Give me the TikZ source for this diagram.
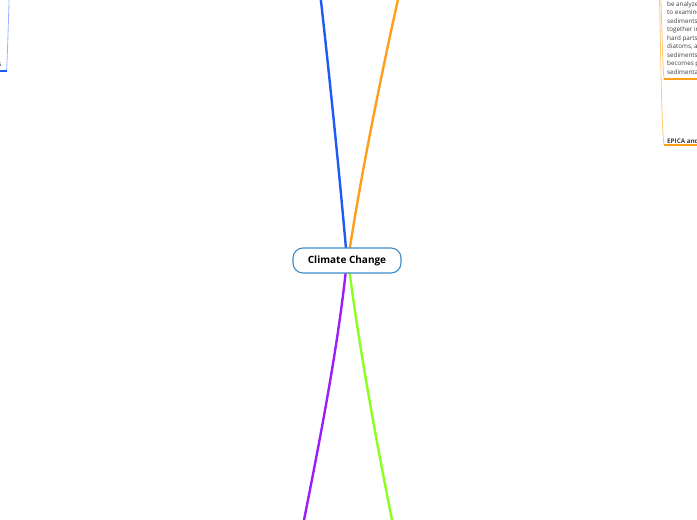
\documentclass[tikz,border=0pt]{standalone}
\usepackage{fontspec}
\setmainfont{Open Sans}
\definecolor{bblue}{RGB}{30,90,245}
\definecolor{borange}{RGB}{255,158,28}
\definecolor{bgreen}{RGB}{140,255,30}
\definecolor{bpurple}{RGB}{155,30,250}
\definecolor{ccblue}{RGB}{60,140,200}
\definecolor{lorange}{RGB}{255,200,110}
\definecolor{lblue}{RGB}{150,180,255}
\definecolor{txtgray}{RGB}{60,60,60}
\begin{document}
\begin{tikzpicture}[x=1pt,y=-1pt,
  branch/.style={line width=2.4pt, line cap=round},
  thinlink/.style={line width=0.8pt},
  uline/.style={line width=1.4pt},
  central/.style={draw=ccblue, line width=1.1pt, rounded corners=10pt, fill=white,
    minimum width=108pt, minimum height=25pt, inner sep=0pt,
    font=\bfseries\fontsize{10}{12}\selectfont},
  small/.style={font=\fontsize{6.3}{8.5}\selectfont, text=txtgray, inner sep=0pt, align=left}]
\useasboundingbox (0,0) rectangle (697,520);
\clip (0,0) rectangle (697,520);
% branch ends (off canvas)
\coordinate (bEnd) at (320,-8);
\coordinate (oEnd) at (399,-5);
\coordinate (gEnd) at (394,530);
\coordinate (pEnd) at (302,530);
\coordinate (c0) at (347,260);
% main branches
\draw[branch,bblue] (c0) .. controls (340,180) and (331,90) .. (bEnd);
\draw[branch,borange] ([xshift=1pt]c0) .. controls (360,180) and (380,80) .. (oEnd);
\draw[branch,bgreen] ([xshift=1pt]c0) .. controls (358,340) and (374,430) .. (gEnd);
\draw[branch,bpurple] (c0) .. controls (339,340) and (322,430) .. (pEnd);
\node[central] (cc) at (347,260.5) {Climate Change};
% top right children
\coordinate (po) at (657,-120);
\coordinate (u1) at (664,79);
\coordinate (u2) at (664,145);
\draw[thinlink,lorange] (po) .. controls (661,-20) and (662,60) .. (u1);
\draw[thinlink,lorange] (po) .. controls (660,0) and (661,125) .. (u2);
\draw[uline,borange] (u1) -- ++(60,0);
\draw[uline,borange] (u2) -- ++(60,0);
\node[small, anchor=north west] (t1) at (667,1.3) {be analyzed by\\to examine the\\sediments and\\together in\\hard parts of\\diatoms, and\\sediments\\becomes part\\sedimentary};
\node[small, anchor=base west, font=\bfseries\fontsize{6.3}{8.5}\selectfont] (t2) at (667,143) {EPICA and Vostok};
% top left child
\coordinate (pb) at (14,-120);
\coordinate (u3) at (6.5,71);
\draw[thinlink,lblue] (pb) .. controls (9,-20) and (8,50) .. (u3);
\draw[uline,bblue] (u3) -- ++(-60,0);
\node[small, anchor=base east] (t3) at (1.8,66.5) {records};
\end{tikzpicture}
\end{document}
